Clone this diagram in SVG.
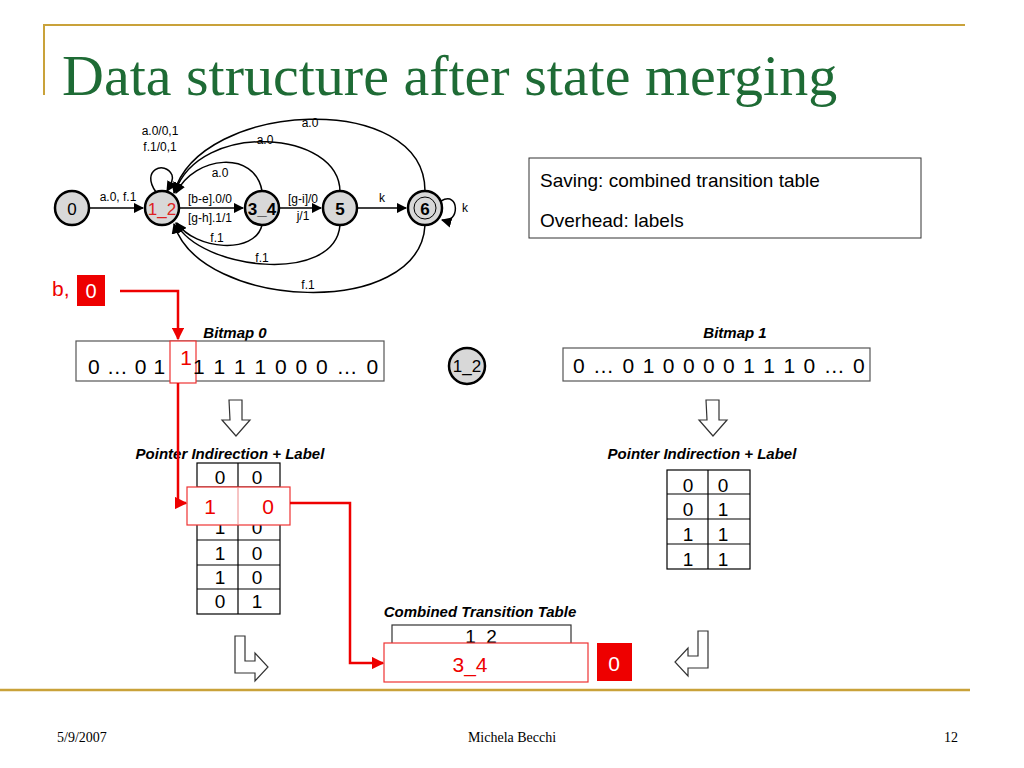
<svg xmlns="http://www.w3.org/2000/svg" width="1024" height="768" viewBox="0 0 1024 768">
<style>
text{font-family:"Liberation Sans",Arial,sans-serif}
.s{font-size:12px}
.n{fill:#d8d8d8;stroke:#000;stroke-width:2.5}
.e{fill:none;stroke:#000;stroke-width:1.5}
.bi{font-size:15px;font-weight:bold;font-style:italic}
.r{fill:none;stroke:#e00;stroke-width:2.5}
.rb{fill:#fff;stroke:#e33;stroke-width:1.2}
.g{fill:none;stroke:#333;stroke-width:1.2}
.serif{font-family:"Liberation Serif","Times New Roman",serif}
</style>
<defs>
<marker id="a" viewBox="0 0 10 10" refX="9" refY="5" markerWidth="7" markerHeight="7" orient="auto"><path d="M0,0L10,5L0,10z" fill="#000"/></marker>
<marker id="ra" viewBox="0 0 10 10" refX="9" refY="5" markerWidth="5" markerHeight="5" orient="auto"><path d="M0,0L10,5L0,10z" fill="#e00"/></marker>
</defs>
<rect width="1024" height="768" fill="#fff"/>
<path d="M44,95V25H965" fill="none" stroke="#c9a23a" stroke-width="2"/>
<line x1="0" y1="690" x2="970" y2="690" stroke="#c9a23a" stroke-width="2.5"/>
<text x="62" y="95" class="serif" font-size="58" fill="#1e6b35">Data structure after state merging</text>
<text x="57" y="742" class="serif" font-size="14">5/9/2007</text>
<text x="512" y="742" class="serif" font-size="14" text-anchor="middle">Michela Becchi</text>
<text x="958" y="742" class="serif" font-size="14" text-anchor="end">12</text>

<g id="edges">
<path class="e" d="M90,208H143" marker-end="url(#a)"/>
<text x="118" y="201" class="s" text-anchor="middle">a.0, f.1</text>
<path class="e" d="M180,208H243" marker-end="url(#a)"/>
<text x="210" y="203" class="s" text-anchor="middle">[b-e].0/0</text>
<text x="210" y="222" class="s" text-anchor="middle">[g-h].1/1</text>
<path class="e" d="M280,208H321" marker-end="url(#a)"/>
<text x="303" y="203" class="s" text-anchor="middle">[g-i]/0</text>
<text x="303" y="220" class="s" text-anchor="middle">j/1</text>
<path class="e" d="M358,208H406" marker-end="url(#a)"/>
<text x="382" y="202" class="s" text-anchor="middle">k</text>
<path class="e" d="M156,192C140,170 165,160 172,175 174,180 170,186 167,191" marker-end="url(#a)"/>
<text x="160" y="135" class="s" text-anchor="middle">a.0/0,1</text>
<text x="160" y="151" class="s" text-anchor="middle">f.1/0,1</text>
<path class="e" d="M262,191C255,150 195,155 176,193" marker-end="url(#a)"/>
<text x="220" y="177" class="s" text-anchor="middle">a.0</text>
<path class="e" d="M340,192C340,130 200,120 175,192" marker-end="url(#a)"/>
<text x="265" y="144" class="s" text-anchor="middle">a.0</text>
<path class="e" d="M425,191C425,90 200,100 174,193" marker-end="url(#a)"/>
<text x="310" y="127" class="s" text-anchor="middle">a.0</text>
<path class="e" d="M262,225C255,255 195,250 177,223" marker-end="url(#a)"/>
<text x="217" y="242" class="s" text-anchor="middle">f.1</text>
<path class="e" d="M340,225C335,285 200,270 176,223" marker-end="url(#a)"/>
<text x="262" y="262" class="s" text-anchor="middle">f.1</text>
<path class="e" d="M425,225C420,320 200,310 174,224" marker-end="url(#a)"/>
<text x="308" y="289" class="s" text-anchor="middle">f.1</text>
<path class="e" d="M441,201C460,190 460,225 442,220" marker-end="url(#a)"/>
<text x="465" y="212" class="s" text-anchor="middle">k</text>
</g>

<g id="n0"><circle cx="72" cy="208" r="17" class="n"/><text x="72" y="215" font-size="17" text-anchor="middle">0</text></g>
<g id="n12"><circle cx="162" cy="208" r="17" class="n" stroke="#e22"/><text x="162" y="215" font-size="17" text-anchor="middle" fill="#d22">1_2</text></g>
<g id="n34"><circle cx="262" cy="208" r="17" class="n"/><text x="262" y="215" font-size="17" font-weight="bold" text-anchor="middle">3_4</text></g>
<g id="n5"><circle cx="340" cy="208" r="17" class="n"/><text x="340" y="215" font-size="17" font-weight="bold" text-anchor="middle">5</text></g>
<g id="n6"><circle cx="425" cy="208" r="17" class="n"/><circle cx="425" cy="208" r="11" fill="none" stroke="#000"/><text x="425" y="215" font-size="17" font-weight="bold" text-anchor="middle">6</text></g>

<g id="saving"><rect x="529" y="158" width="392" height="80" fill="#fff" stroke="#333"/>
<text x="540" y="187" font-size="19">Saving: combined transition table</text>
<text x="540" y="227" font-size="19">Overhead: labels</text></g>

<g id="input"><text x="52" y="296" font-size="21" fill="#e00">b,</text>
<rect x="77" y="275" width="28" height="31" fill="#e00"/><text x="91" y="298" font-size="20" fill="#fff" text-anchor="middle">0</text></g>

<g id="bitmap0"><text x="235" y="338" class="bi" text-anchor="middle">Bitmap 0</text>
<rect x="76" y="341" width="308" height="40" fill="#fff" stroke="#555" stroke-width="1.2"/>
<text x="88" y="374" font-size="21" letter-spacing="0.6">0 … 0 1</text>
<rect x="170" y="341" width="26" height="42" class="rb"/>
<text x="186" y="365" font-size="21" fill="#e00" text-anchor="middle">1</text>
<text x="193" y="374" font-size="21" letter-spacing="1.5">1 1 1 1 0 0 0 … 0</text></g>

<g id="n12b"><circle cx="467" cy="366" r="18" class="n" stroke-width="1.5"/><text x="467" y="372" font-size="17" text-anchor="middle">1_2</text></g>

<g id="bitmap1"><text x="735" y="338" class="bi" text-anchor="middle">Bitmap 1</text>
<rect x="563" y="348" width="307" height="33" fill="#fff" stroke="#555" stroke-width="1.2"/>
<text x="573" y="373" font-size="21" letter-spacing="1.3">0 … 0 1 0 0 0 0 1 1 1 0 … 0</text></g>

<g id="arrows">
<path class="g" d="M229,400h13v20h8l-14,16l-14,-16h8z"/>
<path class="g" d="M706,400h13v20h8l-14,16l-14,-16h8z"/>
<path class="g" d="M235,636h10v25h10v-8l13,14l-13,14v-8h-20z"/>
<path class="g" d="M708,631h-10v25h-10v-8l-13,14l13,14v-8h20z"/>
</g>

<g id="table0"><text x="230" y="459" class="bi" text-anchor="middle">Pointer Indirection + Label</text>
<rect x="197" y="463" width="83" height="151" fill="#fff" stroke="#000" stroke-width="1.2"/>
<path d="M238,463V614M197,487H280M197,516H280M197,540H280M197,565H280M197,589H280" stroke="#000" stroke-width="1.2"/>
<g font-size="19" text-anchor="middle"><text x="220" y="484">0</text><text x="257" y="484">0</text>
<text x="220" y="534">1</text><text x="257" y="534">0</text>
<text x="220" y="560">1</text><text x="257" y="560">0</text>
<text x="220" y="584">1</text><text x="257" y="584">0</text>
<text x="220" y="608">0</text><text x="257" y="608">1</text></g>
<rect x="187" y="487" width="103" height="38" class="rb"/>
<line x1="238" y1="487" x2="238" y2="525" stroke="#e88"/>
<text x="210" y="514" font-size="21" fill="#e00" text-anchor="middle">1</text>
<text x="268" y="514" font-size="21" fill="#e00" text-anchor="middle">0</text></g>

<g id="table1"><text x="702" y="459" class="bi" text-anchor="middle">Pointer Indirection + Label</text>
<rect x="667" y="470" width="83" height="99" fill="#fff" stroke="#000" stroke-width="1.2"/>
<path d="M708,470V569M667,494H750M667,519H750M667,544H750" stroke="#000" stroke-width="1.2"/>
<g font-size="19" text-anchor="middle"><text x="688" y="492">0</text><text x="723" y="492">0</text>
<text x="688" y="516">0</text><text x="723" y="516">1</text>
<text x="688" y="541">1</text><text x="723" y="541">1</text>
<text x="688" y="566">1</text><text x="723" y="566">1</text></g></g>

<g id="ctt"><text x="480" y="617" class="bi" text-anchor="middle">Combined Transition Table</text>
<rect x="392" y="625" width="179" height="30" fill="#fff" stroke="#333" stroke-width="1.2"/>
<text x="481" y="643" font-size="19" text-anchor="middle">1_2</text>
<rect x="384" y="643" width="204" height="39" class="rb"/>
<text x="470" y="672" font-size="21" fill="#e00" text-anchor="middle">3_4</text>
<rect x="597" y="643" width="35" height="38" fill="#e00"/>
<text x="614" y="671" font-size="21" fill="#fff" text-anchor="middle">0</text></g>

<g id="redpath">
<path class="r" d="M120,291H178V339" marker-end="url(#ra)"/>
<path class="r" d="M178,383V503H186" marker-end="url(#ra)"/>
<path class="r" d="M290,503H350V663H383" marker-end="url(#ra)"/>
</g>
</svg>
